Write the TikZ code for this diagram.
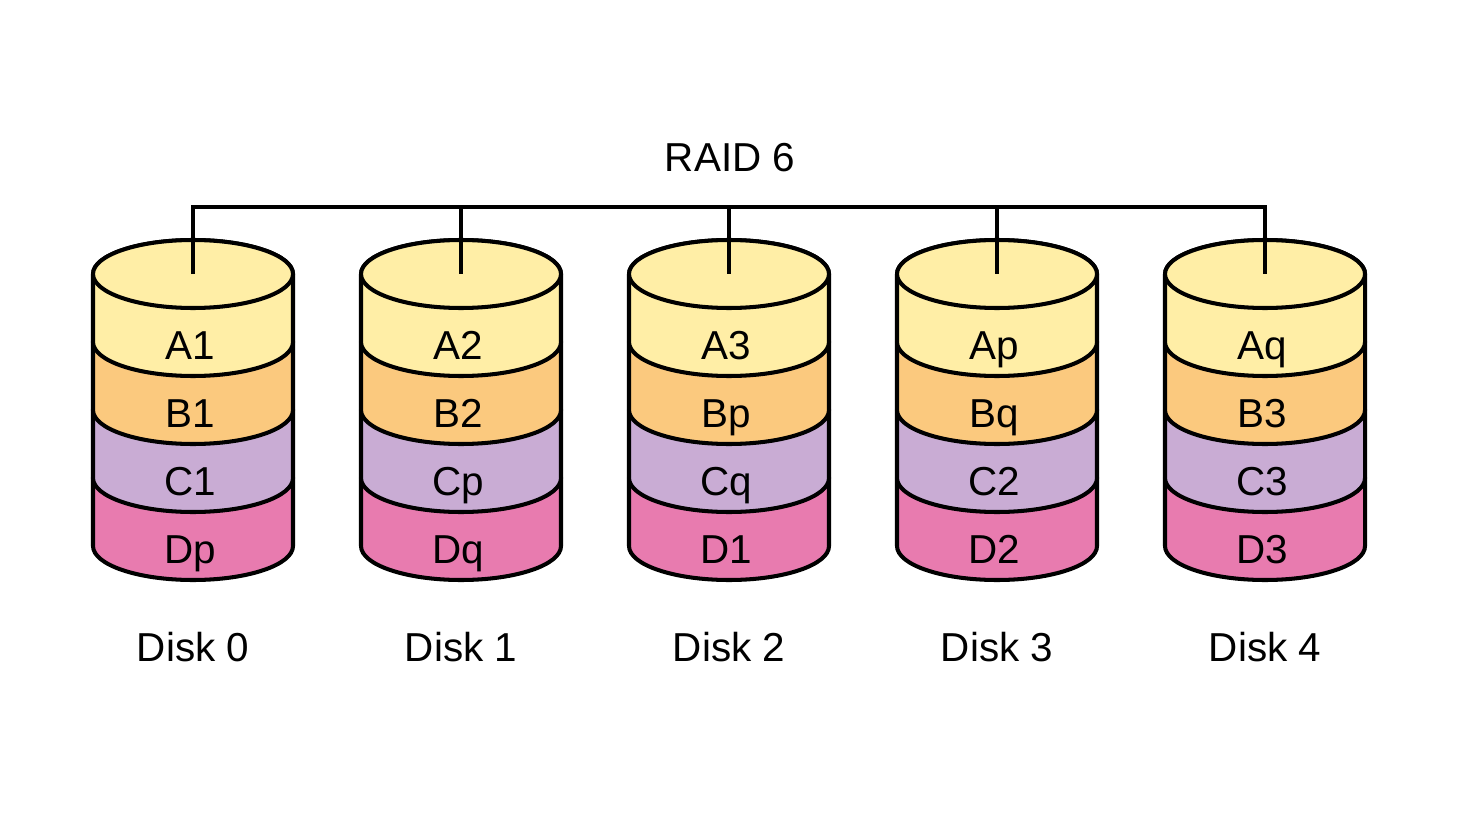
\documentclass[tikz,border=0pt]{standalone}
\usepackage{fontspec}
\setmainfont{Liberation Sans}

\definecolor{layerA}{HTML}{FFEEA6}
\definecolor{layerB}{HTML}{FBC97E}
\definecolor{layerC}{HTML}{C9ACD4}
\definecolor{layerD}{HTML}{E87BAF}

\begin{document}
\begin{tikzpicture}[
		line width=2.3pt,
		txt/.style={font=\fontsize{23}{27}\selectfont, anchor=base},
		layer/.style={draw, line join=round},
		bus/.style={draw, line join=miter}
	]

	\useasboundingbox (0,0) rectangle (29.16,-16.66);

	% Title
	\node[txt] (raid) at (14.6,-3.43) {RAID 6};

	% Disks: stacked layers, bottom to top
	\foreach \i/\x/\la/\lb/\lc/\ld in {
			0/3.86/A1/B1/C1/Dp,
			1/9.22/A2/B2/Cp/Dq,
			2/14.58/A3/Bp/Cq/D1,
			3/19.94/Ap/Bq/C2/D2,
			4/25.30/Aq/B3/C3/D3
		} {
			\foreach \k/\col/\name in {
					3/layerD/\ld,
					2/layerC/\lc,
					1/layerB/\lb,
					0/layerA/\la
				} {
					\pgfmathsetmacro{\y}{-5.48 - \k*1.36}
					\filldraw[layer, fill=\col] (\x-2,\y) -- (\x-2,\y-1.36)
						arc[start angle=180, end angle=360, x radius=2, y radius=0.68]
						-- (\x+2,\y)
						arc[start angle=0, end angle=180, x radius=2, y radius=0.68] -- cycle;
					\node[txt] (l\i\k) at (\x-0.06,\y-1.7) {\name};
				}

			% Top face
			\filldraw[layer, fill=layerA] (\x,-5.48) ellipse[x radius=2, y radius=0.68];

			\coordinate (top\i) at (\x,-5.48);
			\coordinate (bus\i) at (\x,-4.14);

			% Disk label
			\node[txt] (disk\i) at (\x,-13.22) {Disk \i};
		}

	% Bus
	\draw[bus] (top0) -- (bus0) -- (bus4) -- (top4);
	\foreach \i in {1,2,3} {
			\draw[bus] (bus\i) -- (top\i);
		}

\end{tikzpicture}
\end{document}
